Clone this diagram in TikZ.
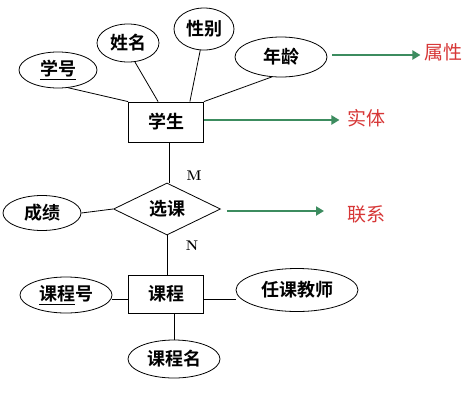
\documentclass[tikz,border=0pt]{standalone}
\usepackage{fontspec}
\newfontfamily\cjk{Noto Sans CJK SC}
\newfontfamily\cjkb{Noto Sans CJK SC Bold}
\usetikzlibrary{shapes.geometric,arrows.meta}
\definecolor{grn}{RGB}{60,140,95}
\definecolor{lbl}{RGB}{215,55,55}
\tikzset{
  attr/.style={draw,ellipse,line width=0.8pt,inner sep=0pt,font=\cjkb\fontsize{18}{18}\selectfont},
  ent/.style={draw,rectangle,line width=0.8pt,minimum width=75pt,minimum height=40pt,font=\cjkb\fontsize{18}{18}\selectfont},
  rel/.style={draw,diamond,aspect=2.05,line width=0.8pt,inner sep=0pt,minimum width=107pt,minimum height=52pt,font=\cjkb\fontsize{18}{18}\selectfont},
  conn/.style={line width=0.8pt},
  garrow/.style={draw=grn,line width=2pt,-{Triangle[length=8pt,width=9pt]}},
  note/.style={text=lbl,font=\cjk\fontsize{19}{19}\selectfont},
  card/.style={font=\bfseries\fontsize{14}{14}\selectfont}
}
\begin{document}
\begin{tikzpicture}[x=1pt,y=-1pt]
\useasboundingbox[fill=white] (0,0) rectangle (474,405);
% attributes of student
\node[attr,minimum width=78pt,minimum height=36pt] (xh) at (58,70) {\underline{学号}};
\node[attr,minimum width=62pt,minimum height=38pt] (xm) at (128,43) {姓名};
\node[attr,minimum width=60pt,minimum height=42pt] (xb) at (204,29) {性别};
\node[attr,minimum width=92pt,minimum height=40pt] (nl) at (281,57) {年龄};
\node[ent] (xs) at (166,122) {学生};
\draw[conn] (xh.-60) -- (xs.north west);
\draw[conn] (xm.-70) -- ([xshift=30pt]xs.north west);
\draw[conn] (xb.-100) -- ([xshift=-14pt]xs.north east);
\draw[conn] (nl.-115) -- (xs.north east);
% relationship
\node[rel] (xk) at (167,209) {选课};
\draw[conn] ([xshift=3pt]xs.south) -- ([xshift=3pt]xs.south |- xk.north) coordinate (xtop);
\node[card] (m) at (194,176) {M};
\node[card] (n) at (192,246) {N};
\node[attr,minimum width=78pt,minimum height=35pt] (cj) at (42,213) {成绩};
\draw[conn] (cj.east) -- (xk.west);
% course
\node[ent,minimum height=38pt] (kc) at (166,294) {课程};
\draw[conn] (xk.south) -- (xk.south |- kc.north);
\node[attr,minimum width=92pt,minimum height=36pt] (kch) at (66,295) {\underline{课程}号};
\node[attr,minimum width=122pt,minimum height=43pt] (rk) at (297,290) {任课教师};
\node[attr,minimum width=92pt,minimum height=38pt] (kcm) at (174,359) {课程名};
\draw[conn] ([yshift=-5pt]kc.west) -- ([yshift=-5pt]kc.west -| kch.east);
\draw[conn] ([yshift=-5pt]kc.east) -- ([yshift=-5pt]kc.east -| rk.west);
\draw[conn] ([xshift=8pt]kc.south) -- ([xshift=8pt]kc.south |- kcm.north);
% notes
\node[note] (sx) at (443,52) {属性};
\node[note] (st) at (366,118) {实体};
\node[note] (lx) at (366,214) {联系};
\coordinate (a1) at (332,55);
\coordinate (a2) at (324,211);
\draw[garrow] (a1) -- (a1 -| sx.west);
\draw[garrow] ([yshift=2pt]xs.east) -- ([yshift=2pt,xshift=-4pt]xs.east -| st.west);
\draw[garrow] ([xshift=6pt]xk.east |- a2) -- (a2);
\end{tikzpicture}
\end{document}
